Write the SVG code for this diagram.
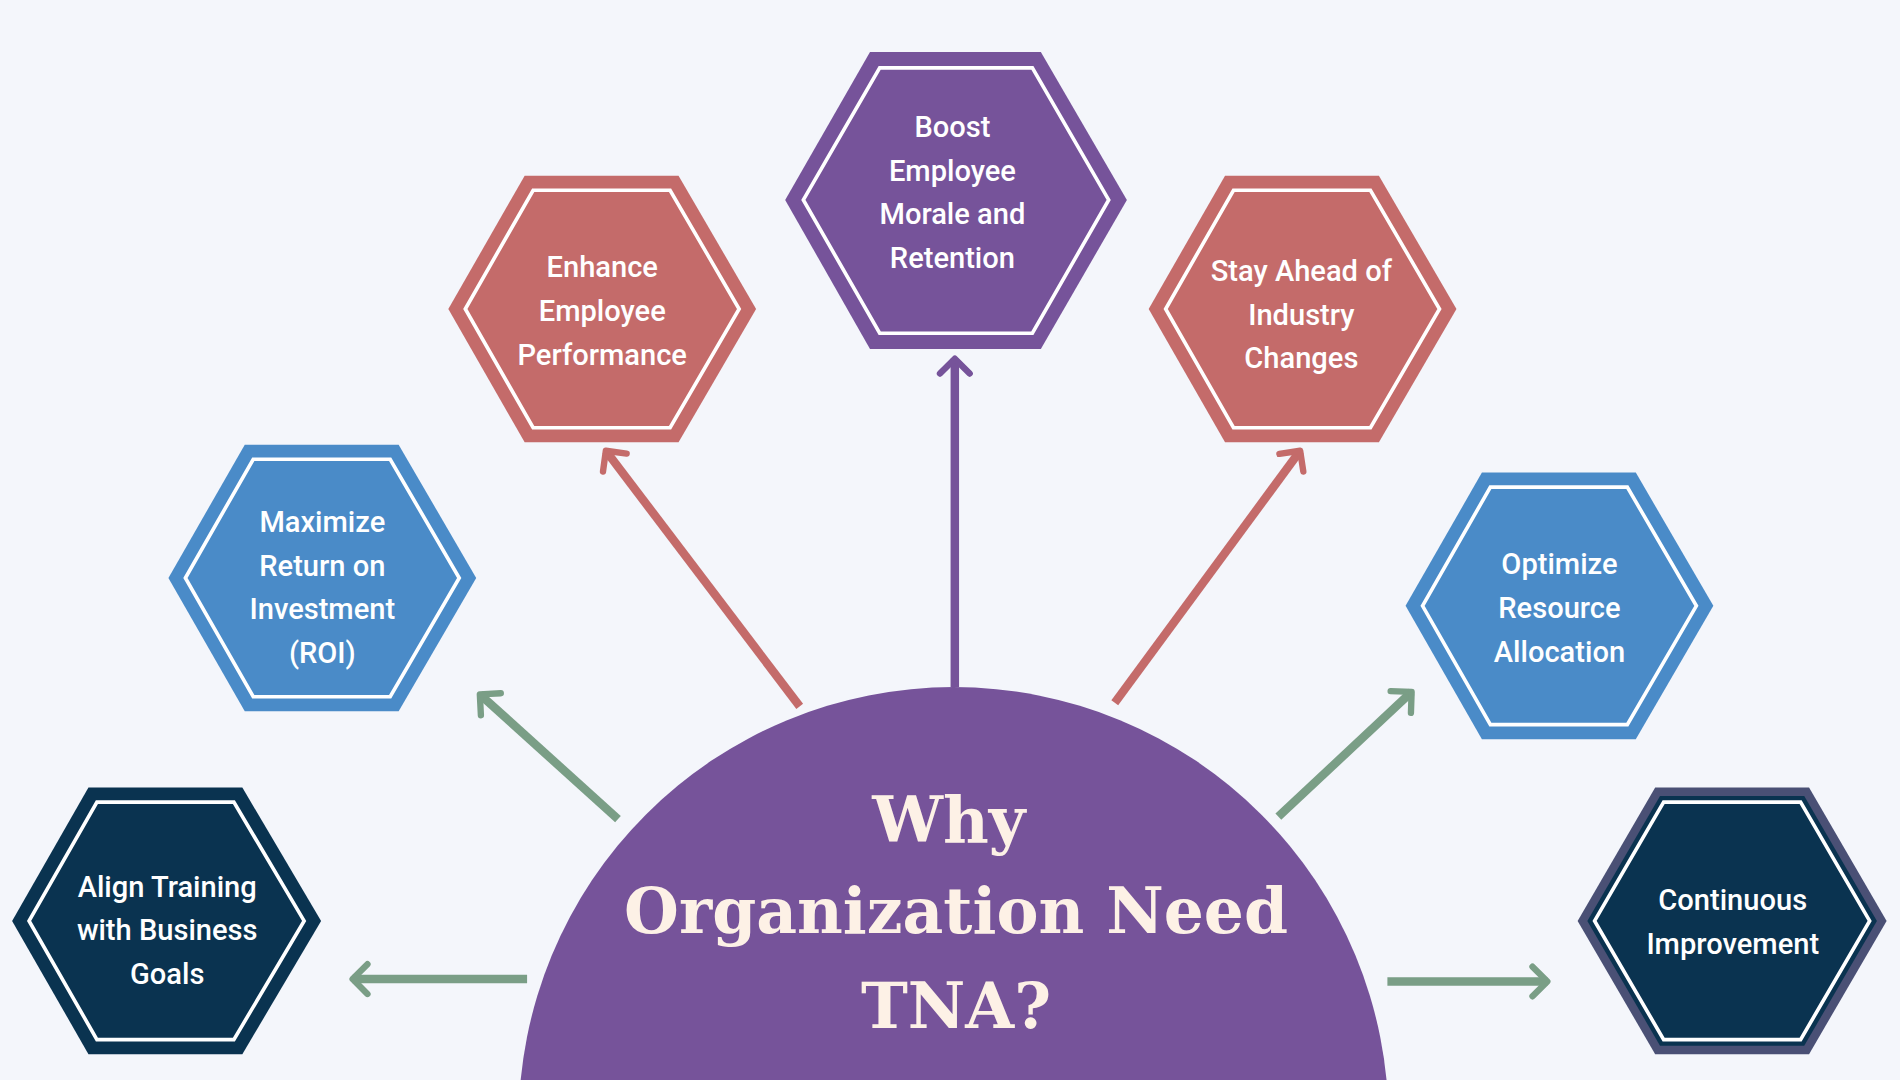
<svg xmlns="http://www.w3.org/2000/svg" width="1900" height="1080" viewBox="0 0 1900 1080">
<defs>
<style>
.lbl{font-family:Roboto,"Liberation Sans",sans-serif;font-weight:500;font-size:24px;fill:#fff;text-anchor:middle}
.ttl{font-family:"DejaVu Serif","Liberation Serif",serif;font-weight:bold;fill:#FDF1E6;text-anchor:middle;font-size:52px}
.in{stroke:#fff;stroke-width:3}
.c{fill:none;stroke-width:7;stroke-linecap:butt}
</style>
<marker id="mr" viewBox="0 0 20 20" refX="10" refY="10" markerWidth="5" markerHeight="5" orient="auto" markerUnits="strokeWidth"><path d="M3 3 L10 10 L3 17" fill="none" stroke="#C46B6A" stroke-width="3" stroke-linecap="round" stroke-linejoin="round"/></marker>
<marker id="mp" viewBox="0 0 20 20" refX="10" refY="10" markerWidth="5" markerHeight="5" orient="auto" markerUnits="strokeWidth"><path d="M3 3 L10 10 L3 17" fill="none" stroke="#76539A" stroke-width="3" stroke-linecap="round" stroke-linejoin="round"/></marker>
<marker id="mg" viewBox="0 0 20 20" refX="10" refY="10" markerWidth="5" markerHeight="5" orient="auto" markerUnits="strokeWidth"><path d="M3 3 L10 10 L3 17" fill="none" stroke="#7A9E86" stroke-width="3" stroke-linecap="round" stroke-linejoin="round"/></marker>
</defs>
<rect width="1900" height="1080" fill="#F4F6FB"/>
<g transform="scale(1.2117)">
<g id="center">
<circle cx="787" cy="926" r="359" fill="#76539A"/>
<text class="ttl" x="783" y="695">Why</text>
<text class="ttl" x="789" y="770">Organization Need</text>
<text class="ttl" x="789" y="848">TNA?</text>
</g>
<g id="connectors">
<line class="c" stroke="#76539A" x1="788" y1="567" x2="788" y2="296" marker-end="url(#mp)"/>
<line class="c" stroke="#C46B6A" x1="660" y1="583" x2="500" y2="372" marker-end="url(#mr)"/>
<line class="c" stroke="#C46B6A" x1="920" y1="580" x2="1073" y2="372" marker-end="url(#mr)"/>
<line class="c" stroke="#7A9E86" x1="510" y1="676" x2="396" y2="573" marker-end="url(#mg)"/>
<line class="c" stroke="#7A9E86" x1="1055" y1="674" x2="1165" y2="571" marker-end="url(#mg)"/>
<line class="c" stroke="#7A9E86" x1="435" y1="808" x2="291" y2="808" marker-end="url(#mg)"/>
<line class="c" stroke="#7A9E86" x1="1145" y1="810" x2="1277" y2="810" marker-end="url(#mg)"/>
</g>
<g id="boost">
<polygon fill="#76539A" points="648,165 718,43 859,43 930,165 859,288 718,288"/>
<polygon fill="none" class="in" points="663,165 726,56 852,56 915,165 852,275 726,275"/>
<text class="lbl"><tspan x="786" y="113">Boost</tspan><tspan x="786" y="149">Employee</tspan><tspan x="786" y="185">Morale and</tspan><tspan x="786" y="221">Retention</tspan></text>
</g>
<g id="enhance">
<polygon fill="#C46B6A" points="370,255 433,145 560,145 624,255 560,365 433,365"/>
<polygon fill="none" class="in" points="384,255 440,157 553,157 610,255 553,353 440,353"/>
<text class="lbl"><tspan x="497" y="229">Enhance</tspan><tspan x="497" y="265">Employee</tspan><tspan x="497" y="301">Performance</tspan></text>
</g>
<g id="stay">
<polygon fill="#C46B6A" points="948,255 1011,145 1138,145 1202,255 1138,365 1011,365"/>
<polygon fill="none" class="in" points="962,255 1018,157 1131,157 1188,255 1131,353 1018,353"/>
<text class="lbl"><tspan x="1074" y="232">Stay Ahead of</tspan><tspan x="1074" y="268">Industry</tspan><tspan x="1074" y="304">Changes</tspan></text>
</g>
<g id="maximize">
<polygon fill="#4A8BC8" points="139,477 202,367 329,367 393,477 329,587 202,587"/>
<polygon fill="none" class="in" points="153,477 209,379 322,379 379,477 322,575 209,575"/>
<text class="lbl"><tspan x="266" y="439">Maximize</tspan><tspan x="266" y="475">Return on</tspan><tspan x="266" y="511">Investment</tspan><tspan x="266" y="547">(ROI)</tspan></text>
</g>
<g id="optimize">
<polygon fill="#4A8BC8" points="1160,500 1223,390 1350,390 1414,500 1350,610 1223,610"/>
<polygon fill="none" class="in" points="1174,500 1230,402 1343,402 1400,500 1343,598 1230,598"/>
<text class="lbl"><tspan x="1287" y="474">Optimize</tspan><tspan x="1287" y="510">Resource</tspan><tspan x="1287" y="546">Allocation</tspan></text>
</g>
<g id="align">
<polygon fill="#0A3350" points="10,760 73,650 200,650 265,760 200,870 73,870"/>
<polygon fill="none" class="in" points="24,760 80,662 193,662 251,760 193,858 80,858"/>
<text class="lbl"><tspan x="138" y="740">Align Training</tspan><tspan x="138" y="776">with Business</tspan><tspan x="138" y="812">Goals</tspan></text>
</g>
<g id="continuous">
<polygon fill="#4A5075" points="1302,760 1366,650 1493,650 1557,760 1493,870 1366,870"/>
<polygon fill="#0A3350" points="1310,760 1370,657 1489,657 1549,760 1489,863 1370,863"/>
<polygon fill="none" class="in" points="1316,760 1373,662 1486,662 1543,760 1486,858 1373,858"/>
<text class="lbl"><tspan x="1430" y="751">Continuous</tspan><tspan x="1430" y="787">Improvement</tspan></text>
</g>
</g>
</svg>
